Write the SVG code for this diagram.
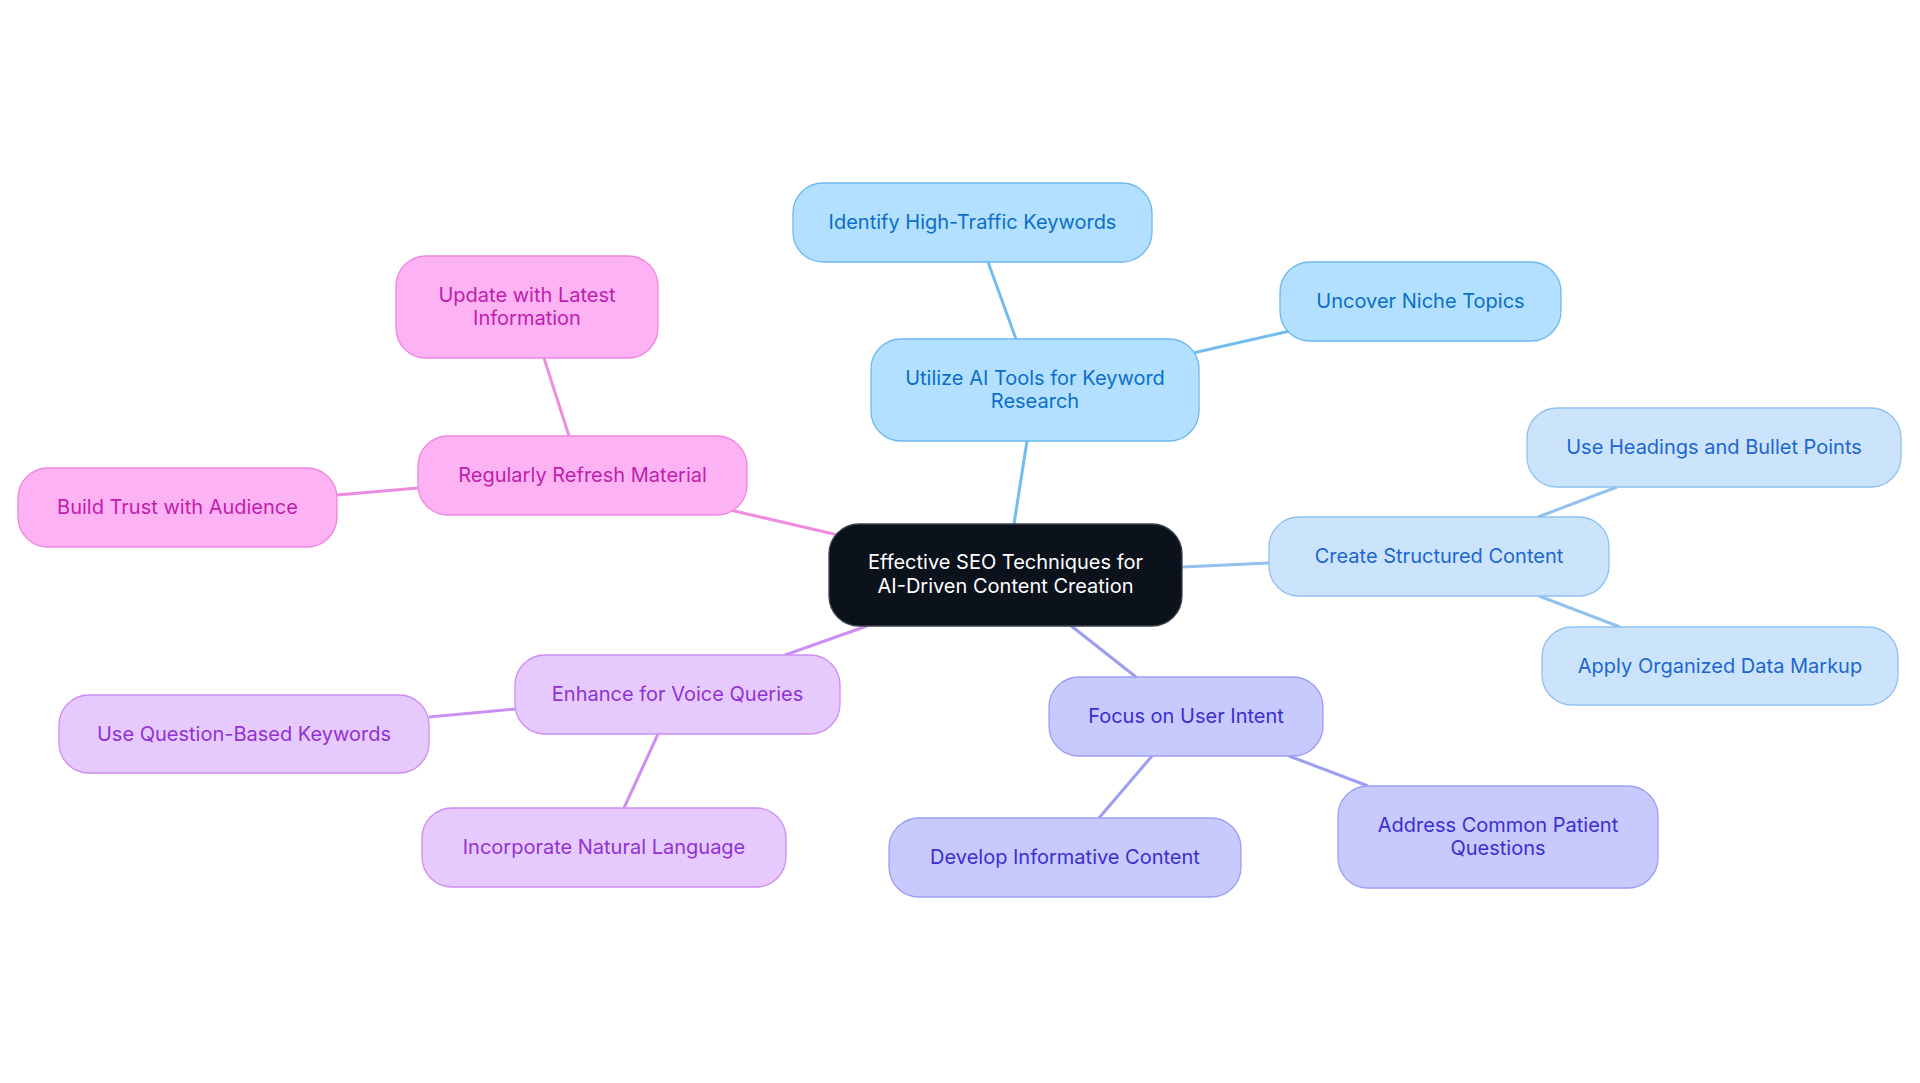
<svg xmlns="http://www.w3.org/2000/svg" width="1920" height="1083" viewBox="0 0 1920 1083">
<style>
text{font-family:Inter,"Noto Sans","Liberation Sans",sans-serif;font-size:20px;text-anchor:middle}
.b1 rect{fill:#B3E0FF;stroke:#6CB9EF;stroke-width:1.3}
.b1 text{fill:#0B6FC7}
.b2 rect{fill:#CCE4FB;stroke:#8FC1F1;stroke-width:1.3}
.b2 text{fill:#1C66CF}
.in rect{fill:#C8C9FC;stroke:#9C9EF4;stroke-width:1.3}
.in text{fill:#3A2FCF}
.pu rect{fill:#E7CAFD;stroke:#CD8DF2;stroke-width:1.3}
.pu text{fill:#9032D3}
.pk rect{fill:#FDB2F3;stroke:#EF87E2;stroke-width:1.3}
.pk text{fill:#C01DAE}
.root rect{fill:#0C121C;stroke:#3C424B;stroke-width:1.3}
.root text{fill:#FFFFFF}
#connectors line{stroke-width:3;fill:none}
.c1{stroke:#72BCEE}.c2{stroke:#93C2EF}.c3{stroke:#9C9EF2}.c4{stroke:#CD90F2}.c5{stroke:#EE8DE0}
</style>
<rect width="1920" height="1083" fill="#FFFFFF"/>
<g id="connectors">
<line class="c1" x1="1014" y1="524" x2="1027" y2="441"/>
<line class="c1" x1="988" y1="262" x2="1016" y2="339"/>
<line class="c1" x1="1193" y1="353" x2="1290" y2="331"/>
<line class="c2" x1="1182" y1="567" x2="1269" y2="563"/>
<line class="c2" x1="1538" y1="517" x2="1617" y2="487"/>
<line class="c2" x1="1539" y1="596" x2="1620" y2="627"/>
<line class="c3" x1="1070" y1="625" x2="1136" y2="677"/>
<line class="c3" x1="1152" y1="756" x2="1099" y2="818"/>
<line class="c3" x1="1289" y1="756" x2="1368" y2="786"/>
<line class="c4" x1="867" y1="626" x2="785" y2="655"/>
<line class="c4" x1="429" y1="717" x2="515" y2="709"/>
<line class="c4" x1="658" y1="734" x2="624" y2="808"/>
<line class="c5" x1="838" y1="535" x2="730" y2="510"/>
<line class="c5" x1="569" y1="436" x2="544" y2="358"/>
<line class="c5" x1="418" y1="488" x2="337" y2="495"/>
</g>
<g id="root" class="root">
<rect x="829" y="524" width="353" height="102" rx="30"/>
<text x="1005.5" y="569">Effective SEO Techniques for</text>
<text x="1005.5" y="593">AI-Driven Content Creation</text>
</g>
<g id="n-utilize" class="b1">
<rect x="871" y="339" width="328" height="102" rx="30"/>
<text x="1035" y="385">Utilize AI Tools for Keyword</text>
<text x="1035" y="408">Research</text>
</g>
<g id="n-identify" class="b1">
<rect x="793" y="183" width="359" height="79" rx="30"/>
<text x="972.5" y="229">Identify High-Traffic Keywords</text>
</g>
<g id="n-uncover" class="b1">
<rect x="1280" y="262" width="281" height="79" rx="30"/>
<text x="1420.5" y="308">Uncover Niche Topics</text>
</g>
<g id="n-structured" class="b2">
<rect x="1269" y="517" width="340" height="79" rx="30"/>
<text x="1439" y="563">Create Structured Content</text>
</g>
<g id="n-headings" class="b2">
<rect x="1527" y="408" width="374" height="79" rx="30"/>
<text x="1714" y="454">Use Headings and Bullet Points</text>
</g>
<g id="n-markup" class="b2">
<rect x="1542" y="627" width="356" height="78" rx="30"/>
<text x="1720" y="673">Apply Organized Data Markup</text>
</g>
<g id="n-focus" class="in">
<rect x="1049" y="677" width="274" height="79" rx="30"/>
<text x="1186" y="723">Focus on User Intent</text>
</g>
<g id="n-develop" class="in">
<rect x="889" y="818" width="352" height="79" rx="30"/>
<text x="1065" y="864">Develop Informative Content</text>
</g>
<g id="n-address" class="in">
<rect x="1338" y="786" width="320" height="102" rx="30"/>
<text x="1498" y="832">Address Common Patient</text>
<text x="1498" y="855">Questions</text>
</g>
<g id="n-voice" class="pu">
<rect x="515" y="655" width="325" height="79" rx="30"/>
<text x="677.5" y="701">Enhance for Voice Queries</text>
</g>
<g id="n-question" class="pu">
<rect x="59" y="695" width="370" height="78" rx="30"/>
<text x="244" y="741">Use Question-Based Keywords</text>
</g>
<g id="n-natural" class="pu">
<rect x="422" y="808" width="364" height="79" rx="30"/>
<text x="604" y="854">Incorporate Natural Language</text>
</g>
<g id="n-refresh" class="pk">
<rect x="418" y="436" width="329" height="79" rx="30"/>
<text x="582.5" y="482">Regularly Refresh Material</text>
</g>
<g id="n-update" class="pk">
<rect x="396" y="256" width="262" height="102" rx="30"/>
<text x="527" y="302">Update with Latest</text>
<text x="527" y="325">Information</text>
</g>
<g id="n-trust" class="pk">
<rect x="18" y="468" width="319" height="79" rx="30"/>
<text x="177.5" y="514">Build Trust with Audience</text>
</g>
</svg>
